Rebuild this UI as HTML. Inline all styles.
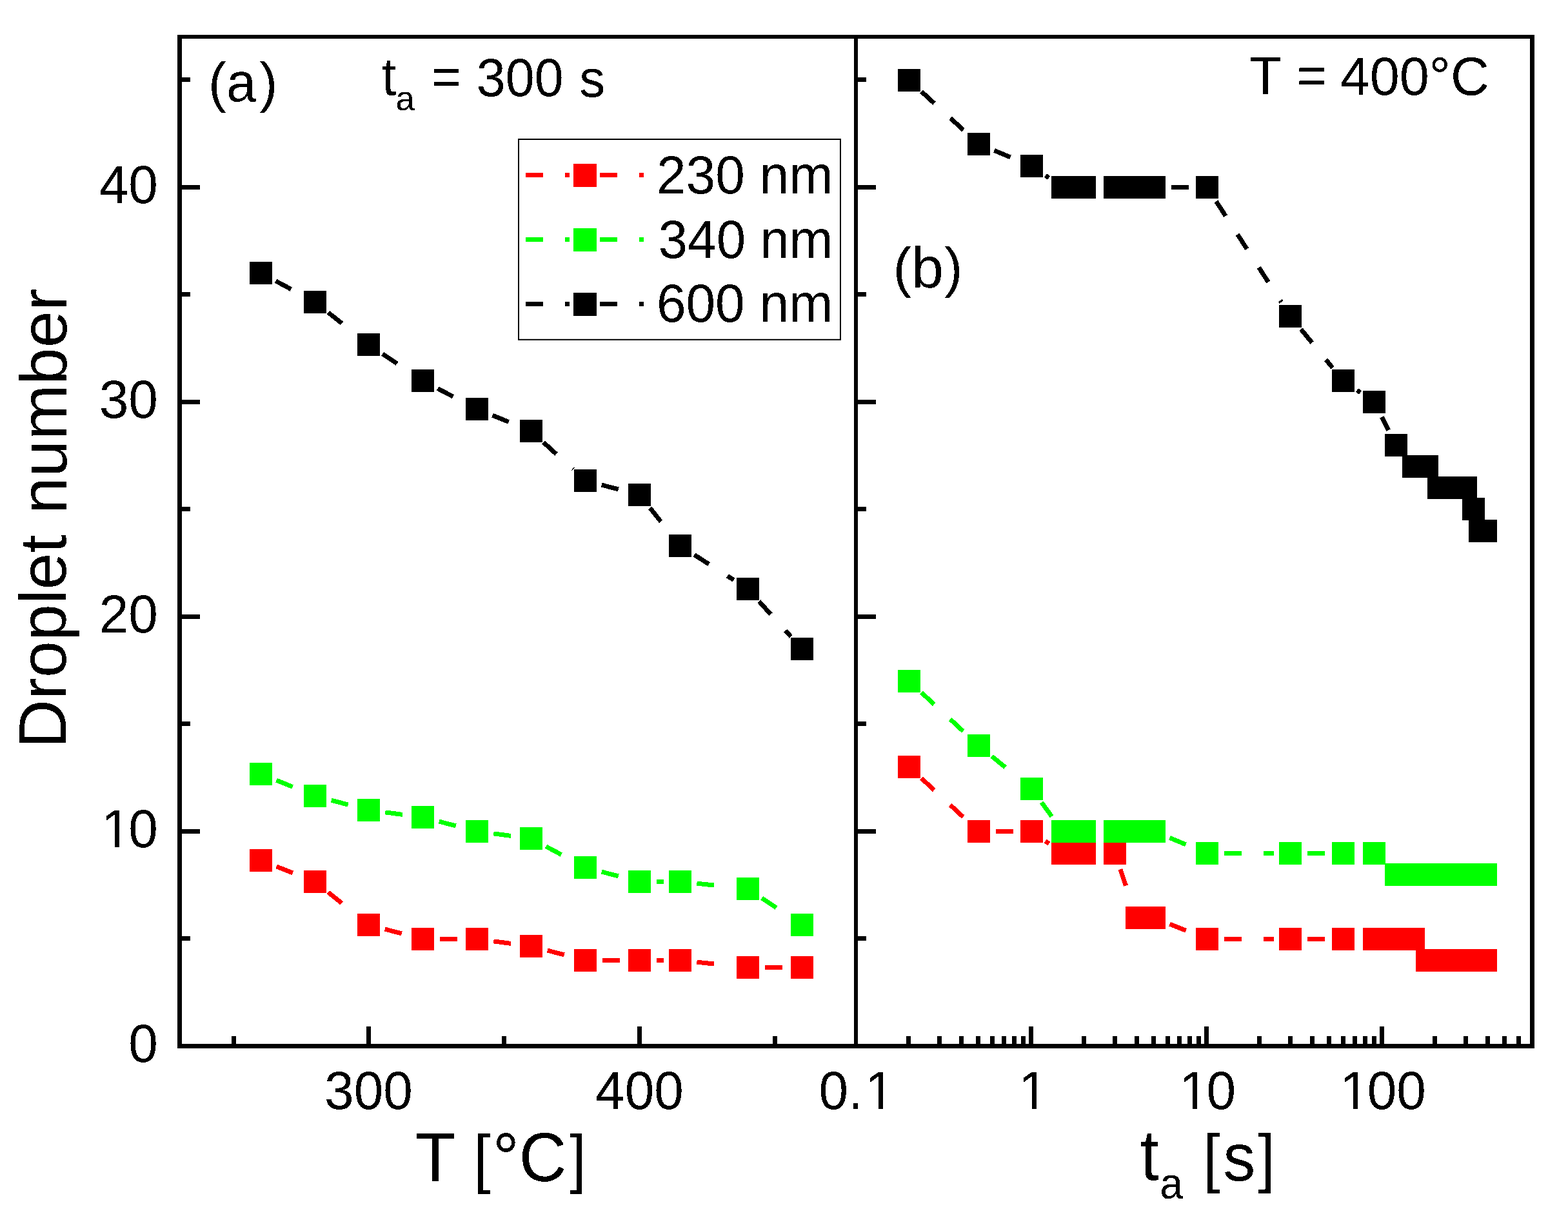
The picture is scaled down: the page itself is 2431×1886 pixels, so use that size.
<!DOCTYPE html>
<html><head><meta charset="utf-8"><title>Droplet number vs T and t_a</title><style>html,body{margin:0;padding:0;background:#fff;overflow:hidden;width:2431px;height:1886px;}svg{display:block;}</style></head><body>
<svg width="2431" height="1886" viewBox="0 0 2431 1886" font-family="'Liberation Sans', Arial, sans-serif">
<defs><filter id="bin" filterUnits="userSpaceOnUse" x="0" y="0" width="2431" height="1886" color-interpolation-filters="sRGB"><feComponentTransfer><feFuncA type="discrete" tableValues="0 1"/></feComponentTransfer></filter></defs>
<rect width="2431" height="1886" fill="#fff"/>
<g stroke="#ff0000" stroke-width="7" stroke-dasharray="27 34" fill="none" shape-rendering="crispEdges"><line x1="428.70" y1="1344.01" x2="464.30" y2="1357.99"/><line x1="508.73" y1="1383.83" x2="551.27" y2="1418.17"/><line x1="596.65" y1="1441.09" x2="630.35" y2="1449.91"/><line x1="681.50" y1="1456.50" x2="713.50" y2="1456.50"/><line x1="765.28" y1="1459.88" x2="797.72" y2="1464.12"/><line x1="848.65" y1="1474.09" x2="882.35" y2="1482.91"/><line x1="933.50" y1="1489.50" x2="965.50" y2="1489.50"/><line x1="1017.50" y1="1489.50" x2="1028.50" y2="1489.50"/><line x1="1080.36" y1="1492.21" x2="1133.64" y2="1497.79"/><line x1="1185.50" y1="1500.50" x2="1217.50" y2="1500.50"/></g>
<g fill="#ff0000"><rect x="387" y="1317" width="35" height="35"/><rect x="471" y="1350" width="35" height="35"/><rect x="554" y="1417" width="35" height="35"/><rect x="638" y="1439" width="35" height="35"/><rect x="722" y="1439" width="35" height="35"/><rect x="806" y="1450" width="35" height="35"/><rect x="890" y="1472" width="35" height="35"/><rect x="974" y="1472" width="35" height="35"/><rect x="1037" y="1472" width="35" height="35"/><rect x="1142" y="1483" width="35" height="35"/><rect x="1226" y="1483" width="35" height="35"/></g>
<g stroke="#00ff00" stroke-width="7" stroke-dasharray="27 34" fill="none" shape-rendering="crispEdges"><line x1="428.60" y1="1210.26" x2="464.40" y2="1224.74"/><line x1="513.63" y1="1241.16" x2="546.37" y2="1249.84"/><line x1="597.28" y1="1259.88" x2="629.72" y2="1264.12"/><line x1="680.65" y1="1274.09" x2="714.35" y2="1282.91"/><line x1="765.28" y1="1292.88" x2="797.72" y2="1297.12"/><line x1="846.42" y1="1312.78" x2="884.58" y2="1333.22"/><line x1="932.65" y1="1352.09" x2="966.35" y2="1360.91"/><line x1="1017.50" y1="1367.50" x2="1028.50" y2="1367.50"/><line x1="1080.36" y1="1370.21" x2="1133.64" y2="1375.79"/><line x1="1181.13" y1="1392.92" x2="1221.87" y2="1420.08"/></g>
<g fill="#00ff00"><rect x="387" y="1183" width="35" height="35"/><rect x="471" y="1217" width="35" height="35"/><rect x="554" y="1239" width="35" height="35"/><rect x="638" y="1250" width="35" height="35"/><rect x="722" y="1272" width="35" height="35"/><rect x="806" y="1283" width="35" height="35"/><rect x="890" y="1328" width="35" height="35"/><rect x="974" y="1350" width="35" height="35"/><rect x="1037" y="1350" width="35" height="35"/><rect x="1142" y="1361" width="35" height="35"/><rect x="1226" y="1417" width="35" height="35"/></g>
<g stroke="#000000" stroke-width="7" stroke-dasharray="27 34" fill="none" shape-rendering="crispEdges"><line x1="427.42" y1="435.78" x2="465.58" y2="456.22"/><line x1="508.85" y1="484.68" x2="551.15" y2="518.32"/><line x1="593.13" y1="548.92" x2="633.87" y2="576.08"/><line x1="678.53" y1="602.56" x2="716.47" y2="622.44"/><line x1="763.60" y1="644.26" x2="799.40" y2="658.74"/><line x1="842.67" y1="686.07" x2="888.33" y2="727.93"/><line x1="932.65" y1="752.09" x2="966.35" y2="760.91"/><line x1="1007.71" y1="787.83" x2="1038.29" y2="826.17"/><line x1="1076.42" y1="860.49" x2="1137.58" y2="899.51"/><line x1="1176.93" y1="932.79" x2="1226.07" y2="987.21"/></g>
<g fill="#000000"><rect x="387" y="406" width="35" height="35"/><rect x="471" y="451" width="35" height="35"/><rect x="554" y="517" width="35" height="35"/><rect x="638" y="573" width="35" height="35"/><rect x="722" y="617" width="35" height="35"/><rect x="806" y="651" width="35" height="35"/><rect x="890" y="728" width="35" height="35"/><rect x="974" y="750" width="35" height="35"/><rect x="1037" y="829" width="35" height="35"/><rect x="1142" y="896" width="35" height="35"/><rect x="1226" y="989" width="35" height="35"/></g>
<g stroke="#ff0000" stroke-width="7" stroke-dasharray="27 34" fill="none" shape-rendering="crispEdges"><line x1="1428.58" y1="1207.16" x2="1498.42" y2="1271.84"/><line x1="1543.50" y1="1289.50" x2="1573.50" y2="1289.50"/><line x1="1620.72" y1="1304.53" x2="1626.28" y2="1308.47"/><line x1="1736.87" y1="1348.12" x2="1754.13" y2="1398.88"/><line x1="1813.62" y1="1433.21" x2="1847.38" y2="1446.79"/><line x1="1897.50" y1="1456.50" x2="1974.50" y2="1456.50"/><line x1="2026.50" y1="1456.50" x2="2056.50" y2="1456.50"/></g>
<g fill="#ff0000"><rect x="1392" y="1172" width="35" height="35"/><rect x="1500" y="1272" width="35" height="35"/><rect x="1582" y="1272" width="35" height="35"/><rect x="1630" y="1306" width="35" height="35"/><rect x="1664" y="1306" width="35" height="35"/><rect x="1711" y="1306" width="35" height="35"/><rect x="1745" y="1406" width="35" height="35"/><rect x="1772" y="1406" width="35" height="35"/><rect x="1854" y="1439" width="35" height="35"/><rect x="1983" y="1439" width="35" height="35"/><rect x="2065" y="1439" width="35" height="35"/><rect x="2113" y="1439" width="35" height="35"/><rect x="2147" y="1439" width="35" height="35"/><rect x="2174" y="1439" width="35" height="35"/><rect x="2195" y="1472" width="35" height="35"/><rect x="2213" y="1472" width="35" height="35"/><rect x="2229" y="1472" width="35" height="35"/><rect x="2243" y="1472" width="35" height="35"/><rect x="2255" y="1472" width="35" height="35"/><rect x="2267" y="1472" width="35" height="35"/><rect x="2277" y="1472" width="35" height="35"/><rect x="2286" y="1472" width="35" height="35"/></g>
<g stroke="#00ff00" stroke-width="7" stroke-dasharray="27 34" fill="none" shape-rendering="crispEdges"><line x1="1428.58" y1="1074.16" x2="1498.42" y2="1138.84"/><line x1="1537.63" y1="1172.95" x2="1579.37" y2="1207.05"/><line x1="1614.79" y1="1244.53" x2="1632.21" y2="1268.47"/><line x1="1813.52" y1="1299.46" x2="1847.48" y2="1313.54"/><line x1="1897.50" y1="1323.50" x2="1974.50" y2="1323.50"/><line x1="2026.50" y1="1323.50" x2="2056.50" y2="1323.50"/></g>
<g fill="#00ff00"><rect x="1392" y="1039" width="35" height="35"/><rect x="1500" y="1139" width="35" height="35"/><rect x="1582" y="1206" width="35" height="35"/><rect x="1630" y="1272" width="35" height="35"/><rect x="1664" y="1272" width="35" height="35"/><rect x="1711" y="1272" width="35" height="35"/><rect x="1745" y="1272" width="35" height="35"/><rect x="1772" y="1272" width="35" height="35"/><rect x="1854" y="1306" width="35" height="35"/><rect x="1983" y="1306" width="35" height="35"/><rect x="2065" y="1306" width="35" height="35"/><rect x="2113" y="1306" width="35" height="35"/><rect x="2147" y="1339" width="35" height="35"/><rect x="2174" y="1339" width="35" height="35"/><rect x="2195" y="1339" width="35" height="35"/><rect x="2213" y="1339" width="35" height="35"/><rect x="2229" y="1339" width="35" height="35"/><rect x="2243" y="1339" width="35" height="35"/><rect x="2255" y="1339" width="35" height="35"/><rect x="2267" y="1339" width="35" height="35"/><rect x="2277" y="1339" width="35" height="35"/><rect x="2286" y="1339" width="35" height="35"/></g>
<g stroke="#000000" stroke-width="7" stroke-dasharray="27 34" fill="none" shape-rendering="crispEdges"><line x1="1428.67" y1="142.07" x2="1498.33" y2="205.93"/><line x1="1541.52" y1="233.46" x2="1575.48" y2="247.54"/><line x1="1620.93" y1="272.23" x2="1626.07" y2="275.77"/><line x1="1815.50" y1="290.50" x2="1845.50" y2="290.50"/><line x1="1885.59" y1="312.35" x2="1986.41" y2="468.65"/><line x1="2016.99" y1="510.60" x2="2066.01" y2="570.40"/><line x1="2103.93" y1="605.23" x2="2109.07" y2="608.77"/><line x1="2142.27" y1="646.69" x2="2152.73" y2="667.31"/></g>
<g fill="#000000"><rect x="1392" y="107" width="35" height="35"/><rect x="1500" y="206" width="35" height="35"/><rect x="1582" y="240" width="35" height="35"/><rect x="1630" y="273" width="35" height="35"/><rect x="1664" y="273" width="35" height="35"/><rect x="1711" y="273" width="35" height="35"/><rect x="1745" y="273" width="35" height="35"/><rect x="1772" y="273" width="35" height="35"/><rect x="1854" y="273" width="35" height="35"/><rect x="1983" y="473" width="35" height="35"/><rect x="2065" y="573" width="35" height="35"/><rect x="2113" y="606" width="35" height="35"/><rect x="2147" y="673" width="35" height="35"/><rect x="2174" y="706" width="35" height="35"/><rect x="2195" y="706" width="35" height="35"/><rect x="2213" y="739" width="35" height="35"/><rect x="2229" y="739" width="35" height="35"/><rect x="2243" y="739" width="35" height="35"/><rect x="2255" y="739" width="35" height="35"/><rect x="2267" y="772" width="35" height="35"/><rect x="2277" y="806" width="35" height="35"/><rect x="2286" y="806" width="35" height="35"/></g>
<g fill="#000"><rect x="275" y="54" width="2104" height="6"/><rect x="275" y="1619" width="2104" height="7"/><rect x="275" y="54" width="7" height="1572"/><rect x="2372" y="54" width="7" height="1572"/><rect x="1324" y="54" width="6" height="1572"/><rect x="282" y="1452" width="13" height="7"/><rect x="1330" y="1452" width="13" height="7"/><rect x="282" y="1286" width="28" height="7"/><rect x="1330" y="1286" width="28" height="7"/><rect x="282" y="1119" width="13" height="7"/><rect x="1330" y="1119" width="13" height="7"/><rect x="282" y="953" width="28" height="7"/><rect x="1330" y="953" width="28" height="7"/><rect x="282" y="786" width="13" height="7"/><rect x="1330" y="786" width="13" height="7"/><rect x="282" y="620" width="28" height="7"/><rect x="1330" y="620" width="28" height="7"/><rect x="282" y="453" width="13" height="7"/><rect x="1330" y="453" width="13" height="7"/><rect x="282" y="287" width="28" height="7"/><rect x="1330" y="287" width="28" height="7"/><rect x="282" y="120" width="13" height="7"/><rect x="1330" y="120" width="13" height="7"/><rect x="359" y="1607" width="7" height="12"/><rect x="568" y="1592" width="7" height="27"/><rect x="778" y="1607" width="7" height="12"/><rect x="988" y="1592" width="7" height="27"/><rect x="1198" y="1607" width="7" height="12"/><rect x="1405" y="1607" width="7" height="12"/><rect x="1453" y="1607" width="7" height="12"/><rect x="1487" y="1607" width="7" height="12"/><rect x="1513" y="1607" width="7" height="12"/><rect x="1535" y="1607" width="7" height="12"/><rect x="1553" y="1607" width="7" height="12"/><rect x="1569" y="1607" width="7" height="12"/><rect x="1583" y="1607" width="7" height="12"/><rect x="1595" y="1592" width="7" height="27"/><rect x="1677" y="1607" width="7" height="12"/><rect x="1725" y="1607" width="7" height="12"/><rect x="1759" y="1607" width="7" height="12"/><rect x="1785" y="1607" width="7" height="12"/><rect x="1807" y="1607" width="7" height="12"/><rect x="1825" y="1607" width="7" height="12"/><rect x="1841" y="1607" width="7" height="12"/><rect x="1855" y="1607" width="7" height="12"/><rect x="1867" y="1592" width="7" height="27"/><rect x="1949" y="1607" width="7" height="12"/><rect x="1997" y="1607" width="7" height="12"/><rect x="2031" y="1607" width="7" height="12"/><rect x="2057" y="1607" width="7" height="12"/><rect x="2079" y="1607" width="7" height="12"/><rect x="2097" y="1607" width="7" height="12"/><rect x="2113" y="1607" width="7" height="12"/><rect x="2127" y="1607" width="7" height="12"/><rect x="2139" y="1592" width="7" height="27"/><rect x="2221" y="1607" width="7" height="12"/><rect x="2269" y="1607" width="7" height="12"/><rect x="2303" y="1607" width="7" height="12"/><rect x="2329" y="1607" width="7" height="12"/><rect x="2351" y="1607" width="7" height="12"/></g>
<rect x="804" y="216" width="499" height="310.8" fill="#fff" stroke="#000" stroke-width="2"/>
<g fill="#ff0000"><rect x="815" y="268.0" width="27" height="7"/><rect x="876" y="268.0" width="7" height="7"/><rect x="930" y="268.0" width="27" height="7"/><rect x="991" y="268.0" width="7" height="7"/><rect x="889" y="254.0" width="36" height="36"/></g>
<g fill="#00ff00"><rect x="815" y="368.0" width="27" height="7"/><rect x="876" y="368.0" width="7" height="7"/><rect x="930" y="368.0" width="27" height="7"/><rect x="991" y="368.0" width="7" height="7"/><rect x="889" y="354.0" width="36" height="36"/></g>
<g fill="#000000"><rect x="815" y="468.0" width="27" height="7"/><rect x="876" y="468.0" width="7" height="7"/><rect x="930" y="468.0" width="27" height="7"/><rect x="991" y="468.0" width="7" height="7"/><rect x="889" y="454.0" width="36" height="36"/></g>
<g filter="url(#bin)">
<text transform="translate(1017.90,300.16) scale(0.8205,0.8352)" font-size="100" >230 nm</text>
<text transform="translate(1020.66,400.17) scale(0.8111,0.8310)" font-size="100" >340 nm</text>
<text transform="translate(1017.90,499.17) scale(0.8196,0.8324)" font-size="100" >600 nm</text>
<text transform="scale(1,1.0224)" ><tspan x="323.07" y="153.91" font-size="84.12">(</tspan><tspan x="350.98" y="153.95" font-size="83.06">a</tspan><tspan x="402.20" y="153.96" font-size="84.31">)</tspan></text>
<text transform="scale(1,0.9885)" ><tspan x="1384.71" y="448.99" font-size="85.49">(</tspan><tspan x="1412.94" y="451.57" font-size="89.86">b</tspan><tspan x="1463.98" y="448.99" font-size="85.49">)</tspan></text>
<text transform="scale(1,1.0213)" xml:space="preserve"><tspan x="591.94" y="144.42" font-size="81.29">t</tspan><tspan x="613.40" y="167.50" font-size="53.00">a</tspan> <tspan x="668.68" y="142.92" font-size="78.68">=</tspan> <tspan x="738.83" y="145.88" font-size="80.87">300</tspan> <tspan x="898.14" y="146.69" font-size="79.85">s</tspan></text>
<text transform="scale(1,1.0064)" xml:space="preserve"><tspan x="1937.00" y="145.54" font-size="82.12">T</tspan> <tspan x="2010.48" y="143.06" font-size="79.57">=</tspan> <tspan x="2077.64" y="145.84" font-size="82.86">400°C</tspan></text>
<text transform="scale(1,1.0495)" xml:space="preserve"><tspan x="643.72" y="1745.40" font-size="102.06">T</tspan> <tspan x="734.33" y="1744.40" font-size="95.09">[</tspan><tspan x="764.01" y="1745.21" font-size="101.91">°C</tspan><tspan x="882.86" y="1744.46" font-size="95.34">]</tspan></text>
<text transform="scale(1,1.0492)" xml:space="preserve"><tspan x="1767.70" y="1744.31" font-size="105.51">t</tspan><tspan x="1798.16" y="1771.62" font-size="64.47">a</tspan> <tspan x="1865.26" y="1744.08" font-size="95.25">[</tspan><tspan x="1896.51" y="1745.61" font-size="99.76">s</tspan><tspan x="1950.05" y="1744.01" font-size="95.00">]</tspan></text>
<text transform="rotate(-90) scale(1,0.9926)" xml:space="preserve"><tspan x="-1160.94" y="102.82" font-size="105.45">D</tspan><tspan x="-1085.05" y="103.05" font-size="102.27">roplet</tspan> <tspan x="-797.30" y="103.92" font-size="103.14">number</tspan></text>
<g transform="translate(244.90,1646.90) scale(0.82,0.831)"><text x="-55.62" y="0" font-size="100">0</text></g>
<clipPath id="k1" clipPathUnits="userSpaceOnUse"><path clip-rule="evenodd" d="M-500,-200H500V200H-500Z M-101.74,-10H-82.09V2H-101.74Z M-73.26,-10H-54.24V2H-73.26Z"/></clipPath>
<g transform="translate(244.90,1313.90) scale(0.82,0.831)"><text x="-111.24" y="0" font-size="100" clip-path="url(#k1)"><tspan dx="4.00">1</tspan><tspan dx="-4.00">0</tspan></text></g>
<g transform="translate(244.90,980.90) scale(0.82,0.831)"><text x="-111.24" y="0" font-size="100">20</text></g>
<g transform="translate(244.90,647.90) scale(0.82,0.831)"><text x="-111.24" y="0" font-size="100">30</text></g>
<g transform="translate(244.90,314.90) scale(0.82,0.831)"><text x="-111.24" y="0" font-size="100">40</text></g>
<g transform="translate(571.50,1720.00) scale(0.82,0.831)"><text x="-83.43" y="0" font-size="100">300</text></g>
<g transform="translate(991.50,1720.00) scale(0.82,0.831)"><text x="-83.43" y="0" font-size="100">400</text></g>
<clipPath id="k2" clipPathUnits="userSpaceOnUse"><path clip-rule="evenodd" d="M-500,-200H500V200H-500Z M23.39,-10H43.04V2H23.39Z M51.87,-10H70.89V2H51.87Z"/></clipPath>
<g transform="translate(1326.50,1720.00) scale(0.82,0.831)"><text x="-69.51" y="0" font-size="100" clip-path="url(#k2)">0.<tspan dx="4.00">1</tspan></text></g>
<clipPath id="k3" clipPathUnits="userSpaceOnUse"><path clip-rule="evenodd" d="M-500,-200H500V200H-500Z M-18.31,-10H1.34V2H-18.31Z M10.17,-10H29.19V2H10.17Z"/></clipPath>
<g transform="translate(1598.50,1720.00) scale(0.82,0.831)"><text x="-27.81" y="0" font-size="100" clip-path="url(#k3)"><tspan dx="4.00">1</tspan></text></g>
<clipPath id="k4" clipPathUnits="userSpaceOnUse"><path clip-rule="evenodd" d="M-500,-200H500V200H-500Z M-46.12,-10H-26.47V2H-46.12Z M-17.64,-10H1.38V2H-17.64Z"/></clipPath>
<g transform="translate(1870.50,1720.00) scale(0.82,0.831)"><text x="-55.62" y="0" font-size="100" clip-path="url(#k4)"><tspan dx="4.00">1</tspan><tspan dx="-4.00">0</tspan></text></g>
<clipPath id="k5" clipPathUnits="userSpaceOnUse"><path clip-rule="evenodd" d="M-500,-200H500V200H-500Z M-73.93,-10H-54.28V2H-73.93Z M-45.45,-10H-26.43V2H-45.45Z"/></clipPath>
<g transform="translate(2142.50,1720.00) scale(0.82,0.831)"><text x="-83.43" y="0" font-size="100" clip-path="url(#k5)"><tspan dx="4.00">1</tspan><tspan dx="-4.00">0</tspan>0</text></g>
</g>
</svg>
</body></html>
